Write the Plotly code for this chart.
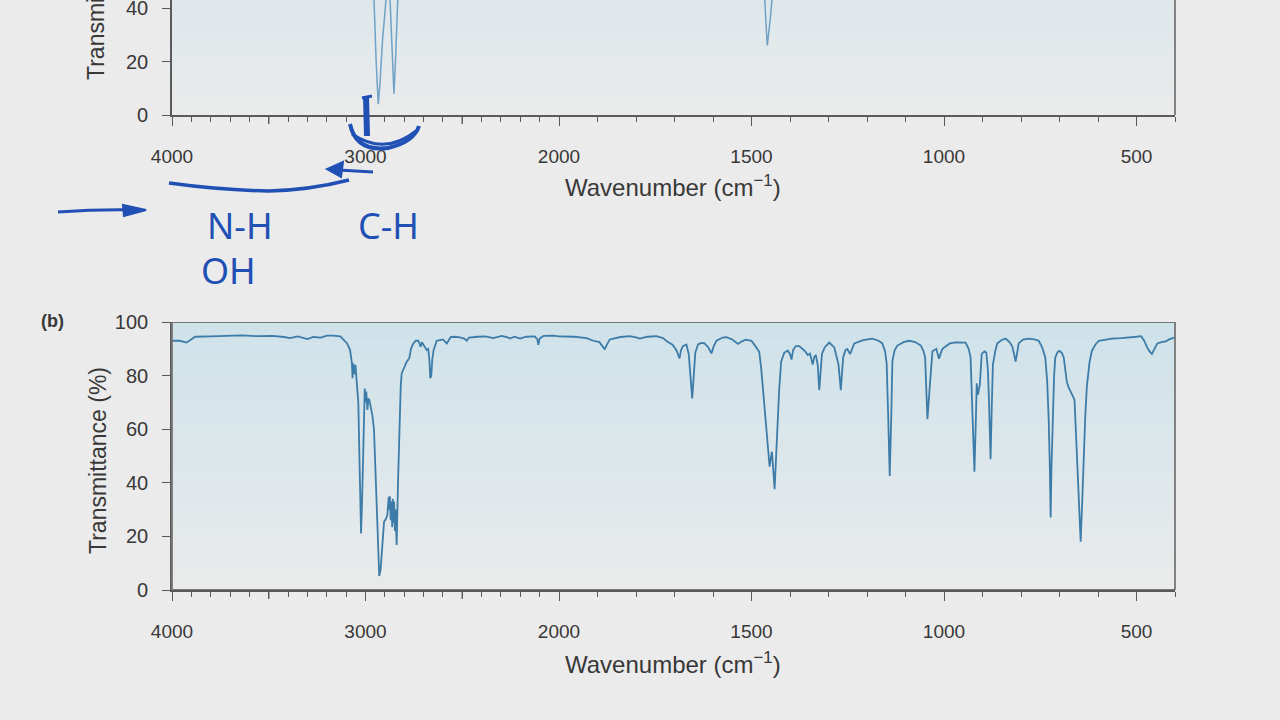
import plotly.graph_objects as go

# ---------------- data ----------------
# (b) spectrum: wavenumber (cm-1) and transmittance (%)
wn_b = [4000, 3960, 3925, 3900, 3880, 3800, 3700, 3640, 3560, 3480, 3420, 3390, 3350, 3300, 3270,
        3230, 3200, 3166, 3130, 3115, 3095, 3080, 3070, 3067, 3064, 3060, 3057, 3052, 3045, 3037,
        3030, 3023, 3017, 3011, 3004, 3000, 2996, 2990, 2985, 2980, 2972, 2964, 2956, 2948, 2942,
        2935, 2929, 2922, 2916, 2910, 2904, 2895, 2887, 2880, 2877, 2874, 2870, 2866, 2862, 2859,
        2856, 2852, 2848, 2845, 2842, 2839, 2832, 2825, 2818, 2813, 2800, 2787, 2773, 2765, 2753,
        2740, 2727, 2720, 2715, 2708, 2701, 2692, 2684, 2676, 2670, 2665, 2660, 2655, 2648, 2640,
        2632, 2600, 2580, 2560, 2540, 2512, 2490, 2477, 2465, 2420, 2380, 2340, 2296, 2270, 2253,
        2230, 2201, 2170, 2125, 2112, 2107, 2100, 2080, 2029, 2000,
        1960, 1928, 1911, 1895, 1886, 1881, 1876, 1868, 1840, 1816, 1800, 1790, 1770, 1747, 1730,
        1717, 1705, 1695, 1687, 1683, 1678, 1669, 1663, 1658, 1654, 1650, 1646, 1639, 1630, 1622,
        1612, 1604, 1598, 1591, 1575, 1565, 1550, 1535, 1525, 1515, 1500, 1490, 1480, 1475, 1471,
        1465, 1458, 1453, 1450, 1447, 1443, 1440, 1436, 1432, 1428, 1423, 1415, 1406, 1400, 1396,
        1392, 1385, 1376, 1368, 1360, 1354, 1348, 1341, 1337, 1333, 1328, 1324, 1320, 1317, 1310,
        1298, 1285, 1278, 1274, 1268, 1264, 1262, 1256, 1251, 1244, 1238, 1233, 1210, 1186, 1170,
        1160, 1153, 1149, 1145, 1141, 1137, 1134, 1128, 1121, 1105, 1091, 1075, 1060, 1053, 1049,
        1046, 1043, 1037, 1033, 1030, 1020, 1016, 1013, 1008, 1004, 985, 970, 944, 936, 931,
        927, 921, 917, 915, 912, 907, 902, 895, 890, 886, 883, 879, 876, 873, 867,
        862, 850, 840, 830, 823, 818, 814, 810, 806, 795, 780, 765, 754, 745, 737,
        732, 728, 725, 723, 721, 718, 714, 711, 705, 700, 694, 689, 685, 681, 676,
        672, 666, 661, 658, 655, 650, 645, 641, 637, 633, 629, 622, 616, 607, 598,
        580, 564, 540, 512, 500, 488, 480, 473, 466, 460, 453, 446, 435, 424, 415,
        405, 400]
tr_b = [93.0, 93.0, 92.3, 93.5, 94.5, 94.6, 94.8, 95.0, 94.7, 94.8, 94.4, 94.0, 94.6, 93.6, 94.4,
        94.2, 94.9, 94.9, 94.6, 93.6, 92.0, 89.6, 84.6, 79.0, 84.5, 83.0, 80.5, 84.0, 78.0, 69.8,
        45.0, 21.1, 35.0, 51.0, 75.2, 70.0, 74.0, 67.2, 71.5, 70.9, 68.5, 65.0, 59.7, 42.0, 26.0,
        12.0, 5.2, 7.5, 13.7, 20.0, 25.5, 26.5, 28.0, 34.8, 30.0, 35.0, 26.0, 33.0, 23.4, 34.0,
        25.0, 33.0, 22.0, 30.0, 20.0, 16.8, 40.0, 63.4, 76.0, 80.8, 83.0, 85.2, 86.6, 90.0, 92.0,
        93.0, 93.0, 91.5, 90.8, 92.5, 91.8, 90.5, 89.6, 90.0, 86.0, 79.0, 80.0, 86.0, 89.5, 91.5,
        93.0, 93.5, 92.0, 94.4, 94.5, 94.3, 93.8, 93.0, 94.2, 94.5, 94.6, 94.0, 94.8, 94.4, 93.8,
        94.5, 93.8, 94.5, 94.6, 93.5, 91.5, 93.8, 94.8, 94.9, 94.6,
        94.5, 94.0, 93.0, 92.5, 91.0, 89.8, 91.5, 93.5, 94.4, 94.7, 94.3, 93.8, 94.5, 94.7, 94.0,
        92.5, 91.5, 89.5, 86.4, 89.5, 91.0, 91.6, 88.0, 78.0, 71.5, 80.0, 88.5, 91.6, 92.2, 92.0,
        90.5, 88.3, 91.0, 93.0, 94.2, 94.3, 93.5, 91.8, 92.8, 93.4, 93.0, 91.0, 88.9, 83.0, 75.9,
        65.0, 53.5, 46.0, 49.0, 51.6, 44.0, 37.6, 50.0, 63.4, 75.0, 85.2, 88.5, 89.4, 88.0, 86.0,
        89.5, 91.0, 91.0, 90.0, 89.0, 87.7, 88.2, 84.1, 87.0, 87.7, 84.0, 74.6, 84.0, 88.1, 90.5,
        92.3, 90.5, 86.0, 84.1, 74.6, 82.0, 86.8, 89.5, 89.9, 88.0, 90.5, 92.0, 93.2, 93.8, 93.0,
        92.0, 89.0, 84.6, 65.0, 42.5, 65.0, 85.6, 89.5, 91.2, 92.5, 93.0, 92.5, 91.2, 89.0, 86.8,
        75.0, 63.7, 75.9, 84.0, 89.1, 90.0, 88.0, 86.3, 88.5, 90.0, 92.0, 92.4, 92.3, 90.0, 86.8,
        69.4, 44.1, 65.0, 77.1, 72.8, 76.5, 88.1, 89.0, 88.5, 82.0, 70.0, 48.8, 68.0, 84.1, 89.0,
        92.0, 93.3, 93.8, 92.5, 91.0, 88.0, 85.2, 88.5, 92.0, 93.4, 93.8, 93.5, 93.0, 90.5, 86.8,
        78.0, 63.4, 45.0, 27.1, 45.0, 63.4, 80.0, 86.8, 88.8, 89.2, 88.5, 86.8, 82.0, 77.7, 75.5,
        74.0, 72.5, 70.9, 62.0, 48.5, 33.0, 18.0, 33.0, 51.0, 65.0, 75.9, 85.0, 89.2, 91.5, 93.0,
        93.5, 93.8, 94.0, 94.2, 94.5, 94.7, 93.0, 90.7, 89.0, 88.1, 90.0, 92.0, 92.5, 92.8, 93.5,
        94.2, 94.3]

# (a) spectrum: only the part below ~43 % is visible in the frame
wn_a = [4000, 3500, 3100, 3000, 2980, 2965, 2956, 2945, 2934, 2925, 2912, 2894, 2884, 2873, 2862,
        2853, 2845, 2832, 2820, 2800, 2700, 2000, 1500, 1480, 1470, 1464, 1459, 1452, 1445, 1435,
        1420, 1390, 1378, 1365, 1300, 1000, 900, 800, 725, 720, 715, 700, 400]
tr_a = [93, 93, 93, 90, 75, 55, 43, 20, 4, 12, 28, 43, 50, 43, 20,
        8, 20, 43, 70, 88, 92, 93, 92, 80, 55, 43, 26, 35, 43, 65,
        85, 80, 65, 85, 92, 92, 90, 92, 70, 65, 75, 90, 92]

x_major_hi = [4000, 3000, 2000]
x_major_hi_text = ["4000", "3000", "2000"]
x_long_unlabelled = [3500, 2500]
x_major_lo = [1500, 1000, 500]
x_major_lo_text = ["1500", "1000", "500"]
y_ticks = [0, 20, 40, 60, 80, 100]
SPLIT = 2000

# ---------------- layout geometry ----------------
W, H = 1280, 720
L, R = 172, 105
PW = W - L - R
D = (559 - 172) / PW          # where the 2000 cm-1 scale change sits
yb = [(H - 590) / H, (H - 322) / H]
yt = [(H - 115) / H, 1.0]
TOP_MAX = 43
MAJ_LEN = 9

def px(X):
    return (X - L) / PW

def py(Y):
    return (H - Y) / H

LINE_B = "#3d7ca8"
LINE_A = "#6fa2c6"
AX = "#5a5a5a"
TXT = "#383838"
PEN = "#2150b5"

fig = go.Figure()

def add_spectrum(wn, tr, xa_hi, xa_lo, ya, color, width):
    hi = [(w, t) for w, t in zip(wn, tr) if w >= SPLIT]
    lo = [(w, t) for w, t in zip(wn, tr) if w <= SPLIT]
    for pts, xa in ((hi, xa_hi), (lo, xa_lo)):
        fig.add_trace(go.Scatter(x=[p[0] for p in pts], y=[p[1] for p in pts], mode="lines",
                                 line=dict(color=color, width=width), xaxis=xa, yaxis=ya,
                                 hoverinfo="skip", showlegend=False))

add_spectrum(wn_b, tr_b, "x", "x2", "y", LINE_B, 1.8)
add_spectrum(wn_a, tr_a, "x3", "x4", "y2", LINE_A, 1.5)

def xaxis_cfg(dom, rng, tv, tt, anchor):
    return dict(domain=dom, range=rng, anchor=anchor, tickmode="array", tickvals=tv, ticktext=tt,
                ticks="outside", ticklen=MAJ_LEN, tickwidth=1.4, tickcolor=AX,
                minor=dict(ticks="outside", dtick=100, tick0=0, ticklen=5, tickwidth=1, tickcolor=AX),
                showline=True, linecolor=AX, linewidth=1.6, showgrid=False, zeroline=False,
                tickfont=dict(family="Liberation Sans, Arial, sans-serif", size=19, color=TXT),
                ticklabelstandoff=14, fixedrange=True, automargin=False, ticklabeloverflow="allow")

def yaxis_cfg(dom, rng, anchor):
    return dict(domain=dom, range=rng, anchor=anchor, tickmode="array", tickvals=y_ticks,
                ticks="outside", ticklen=8, tickwidth=1.4, tickcolor=AX,
                showline=True, linecolor=AX, linewidth=1.6, showgrid=False, zeroline=False,
                tickfont=dict(family="Liberation Sans, Arial, sans-serif", size=20, color=TXT),
                ticklabelstandoff=10, fixedrange=True, automargin=False, ticklabeloverflow="allow")

fig.update_layout(
    width=W, height=H, margin=dict(l=L, r=R, t=0, b=0, autoexpand=False),
    paper_bgcolor="#ebebeb", plot_bgcolor="#e2e8ea", showlegend=False,
    xaxis=xaxis_cfg([0, D], [4000, 2000], x_major_hi, x_major_hi_text, "y"),
    xaxis2=xaxis_cfg([D, 1], [2000, 400], x_major_lo, x_major_lo_text, "y"),
    yaxis=yaxis_cfg(yb, [0, 100], "x"),
    xaxis3=xaxis_cfg([0, D], [4000, 2000], x_major_hi, x_major_hi_text, "y2"),
    xaxis4=xaxis_cfg([D, 1], [2000, 400], x_major_lo, x_major_lo_text, "y2"),
    yaxis2=yaxis_cfg(yt, [0, TOP_MAX], "x3"),
)

# ---------------- background gradient (styling) ----------------
top_c = (206, 226, 234)
bot_c = (234, 235, 235)
shapes = []
step = 2
for yref, ymax in (("y", 100), ("y2", TOP_MAX)):
    v = 0
    while v < ymax:
        f = (v + step / 2) / 100
        c = tuple(int(round(bot_c[i] + (top_c[i] - bot_c[i]) * f)) for i in range(3))
        shapes.append(dict(type="rect", xref="paper", yref=yref, x0=0, x1=1, y0=v,
                           y1=min(v + step, ymax), fillcolor="rgb(%d,%d,%d)" % c,
                           line=dict(width=0), layer="below"))
        v += step

# frames
shapes.append(dict(type="rect", xref="paper", yref="y", x0=0, x1=1, y0=0, y1=100,
                   line=dict(color="#777777", width=1.8), layer="above"))
shapes.append(dict(type="line", xref="paper", yref="y2", x0=1, x1=1, y0=0, y1=TOP_MAX,
                   line=dict(color="#777777", width=1.8)))

# long unlabelled ticks at 3500 and 2500 (same length as the labelled majors)
for xref, axis_y in (("x", 590), ("x3", 115)):
    for v in x_long_unlabelled:
        shapes.append(dict(type="line", xref=xref, yref="paper", x0=v, x1=v,
                           y0=py(axis_y), y1=py(axis_y + MAJ_LEN),
                           line=dict(color=AX, width=1.4)))

# ---------------- hand-drawn pen marks (decoration) ----------------
def P(X, Y):
    return "%.5f %.5f" % (px(X), py(Y))

pen_paths = [
    ("M " + P(366, 96) + " L " + P(367, 136), 6),
    ("M " + P(362, 98) + " L " + P(372, 96), 3),
    ("M " + P(350, 124) + " Q " + P(356, 152) + " " + P(388, 148) + " Q " + P(414, 142) + " " + P(419, 126), 4),
    ("M " + P(352, 134) + " Q " + P(385, 156) + " " + P(416, 131), 3),
    ("M " + P(373, 172) + " L " + P(338, 170), 3),
    ("M " + P(169, 183) + " Q " + P(220, 190) + " " + P(269, 191) + " Q " + P(310, 190) + " " + P(349, 180), 3.5),
    ("M " + P(58, 212) + " Q " + P(100, 209) + " " + P(140, 210), 3),
]
for path, w in pen_paths:
    shapes.append(dict(type="path", xref="paper", yref="paper", path=path,
                       line=dict(color=PEN, width=w)))
# arrow heads
shapes.append(dict(type="path", xref="paper", yref="paper",
                   path="M " + P(343, 162) + " L " + P(327, 169) + " L " + P(341, 177) + " Z",
                   fillcolor=PEN, line=dict(color=PEN, width=2)))
shapes.append(dict(type="path", xref="paper", yref="paper",
                   path="M " + P(123, 205) + " L " + P(146, 210) + " L " + P(124, 216) + " Z",
                   fillcolor=PEN, line=dict(color=PEN, width=2)))
fig.update_layout(shapes=shapes)

# ---------------- text ----------------
ann = []
title_font = dict(family="Liberation Sans, Arial, sans-serif", size=24, color=TXT)
ytitle_font = dict(family="Liberation Sans, Arial, sans-serif", size=23, color=TXT)
ann.append(dict(text="Wavenumber (cm<sup>\u22121</sup>)", x=px(673), y=py(663), xref="paper", yref="paper",
                showarrow=False, font=title_font, xanchor="center", yanchor="middle"))
ann.append(dict(text="Wavenumber (cm<sup>\u22121</sup>)", x=px(673), y=py(186), xref="paper", yref="paper",
                showarrow=False, font=title_font, xanchor="center", yanchor="middle"))
ann.append(dict(text="Transmittance (%)", x=px(98), y=py(461), xref="paper", yref="paper",
                showarrow=False, font=ytitle_font, textangle=-90, xanchor="center", yanchor="middle"))
ann.append(dict(text="Transmittance (%)", x=px(96), y=py(-13), xref="paper", yref="paper",
                showarrow=False, font=ytitle_font, textangle=-90, xanchor="center", yanchor="middle"))
ann.append(dict(text="<b>(b)</b>", x=px(52), y=py(321), xref="paper", yref="paper", showarrow=False,
                font=dict(family="Liberation Sans, Arial, sans-serif", size=18, color=TXT),
                xanchor="center", yanchor="middle"))
pen_font = dict(family="Noto Sans, DejaVu Sans, sans-serif", size=36, color=PEN)
ann.append(dict(text="N-H", x=px(240), y=py(225), xref="paper", yref="paper", showarrow=False,
                font=pen_font, xanchor="center", yanchor="middle"))
ann.append(dict(text="OH", x=px(228), y=py(270), xref="paper", yref="paper", showarrow=False,
                font=pen_font, xanchor="center", yanchor="middle"))
ann.append(dict(text="C-H", x=px(388), y=py(225), xref="paper", yref="paper", showarrow=False,
                font=pen_font, xanchor="center", yanchor="middle"))
fig.update_layout(annotations=ann)

fig.write_html("out.html", config={"displayModeBar": False},
               post_script="document.body.style.margin='0';document.body.style.overflow='hidden';")
